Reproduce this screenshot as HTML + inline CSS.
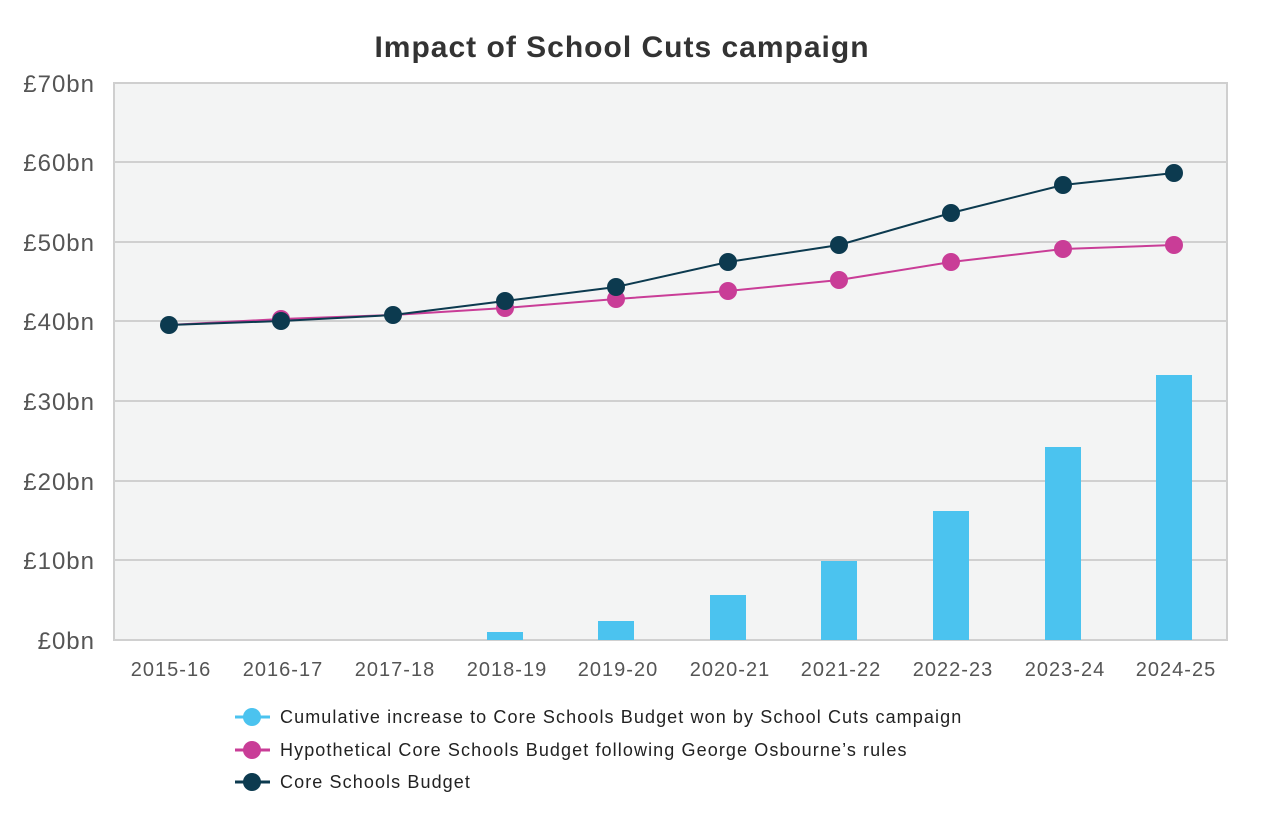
<!DOCTYPE html>
<html><head><meta charset="utf-8"><style>
body{margin:0;background:#fff;}
svg{display:block;font-family:"Liberation Sans",sans-serif;}
</style></head><body>
<svg width="1261" height="833" viewBox="0 0 1261 833">
<rect width="1261" height="833" fill="#fff"/>
<text x="622" y="57" text-anchor="middle" font-size="30" font-weight="bold" fill="#333" letter-spacing="1">Impact of School Cuts campaign</text>
<rect x="114" y="83" width="1113" height="557" fill="#f3f4f4" stroke="#cfcfcf" stroke-width="2"/>
<g stroke="#d0d0d0" stroke-width="2">
<line x1="114" y1="162" x2="1227" y2="162"/><line x1="114" y1="242" x2="1227" y2="242"/>
<line x1="114" y1="321" x2="1227" y2="321"/><line x1="114" y1="401" x2="1227" y2="401"/>
<line x1="114" y1="481" x2="1227" y2="481"/><line x1="114" y1="560" x2="1227" y2="560"/>
<line x1="114" y1="640" x2="1227" y2="640"/>
</g>
<g font-size="24" fill="#555" text-anchor="end" letter-spacing="1">
<text x="95" y="92">£70bn</text><text x="95" y="171">£60bn</text><text x="95" y="251">£50bn</text>
<text x="95" y="330">£40bn</text><text x="95" y="410">£30bn</text><text x="95" y="490">£20bn</text>
<text x="95" y="569">£10bn</text><text x="95" y="649">£0bn</text>
</g>
<g font-size="20" fill="#555" text-anchor="middle" letter-spacing="1">
<text x="171" y="676">2015-16</text><text x="283" y="676">2016-17</text><text x="395" y="676">2017-18</text>
<text x="507" y="676">2018-19</text><text x="618" y="676">2019-20</text><text x="730" y="676">2020-21</text>
<text x="841" y="676">2021-22</text><text x="953" y="676">2022-23</text><text x="1065" y="676">2023-24</text>
<text x="1176" y="676">2024-25</text>
</g>
<g fill="#4bc3ef">
<rect x="487" y="632" width="36" height="8"/><rect x="598" y="621" width="36" height="19"/>
<rect x="710" y="595" width="36" height="45"/><rect x="821" y="561" width="36" height="79"/>
<rect x="933" y="511" width="36" height="129"/><rect x="1045" y="447" width="36" height="193"/>
<rect x="1156" y="375" width="36" height="265"/>
</g>
<polyline fill="none" stroke="#c93d97" stroke-width="2" points="169,325 281,319 393,315 505,308 616,299 728,291 839,280 951,262 1063,249 1174,245"/>
<g fill="#c93d97">
<circle cx="281" cy="319" r="9"/><circle cx="505" cy="308" r="9"/><circle cx="616" cy="299" r="9"/><circle cx="728" cy="291" r="9"/><circle cx="839" cy="280" r="9"/><circle cx="951" cy="262" r="9"/><circle cx="1063" cy="249" r="9"/><circle cx="1174" cy="245" r="9"/>
</g>
<polyline fill="none" stroke="#0c3a4f" stroke-width="2" points="169,325 281,321 393,315 505,301 616,287 728,262 839,245 951,213 1063,185 1174,173"/>
<g fill="#0c3a4f">
<circle cx="169" cy="325" r="9"/><circle cx="281" cy="321" r="9"/><circle cx="393" cy="315" r="9"/><circle cx="505" cy="301" r="9"/><circle cx="616" cy="287" r="9"/><circle cx="728" cy="262" r="9"/><circle cx="839" cy="245" r="9"/><circle cx="951" cy="213" r="9"/><circle cx="1063" cy="185" r="9"/><circle cx="1174" cy="173" r="9"/>
</g>
<g font-size="18" fill="#222" letter-spacing="1.1">
<line x1="235" y1="717" x2="270" y2="717" stroke="#4bc3ef" stroke-width="3"/><circle cx="252" cy="717" r="9" fill="#4bc3ef"/>
<text x="280" y="723">Cumulative increase to Core Schools Budget won by School Cuts campaign</text>
<line x1="235" y1="750" x2="270" y2="750" stroke="#c93d97" stroke-width="3"/><circle cx="252" cy="750" r="9" fill="#c93d97"/>
<text x="280" y="756">Hypothetical Core Schools Budget following George Osbourne’s rules</text>
<line x1="235" y1="782" x2="270" y2="782" stroke="#0c3a4f" stroke-width="3"/><circle cx="252" cy="782" r="9" fill="#0c3a4f"/>
<text x="280" y="788">Core Schools Budget</text>
</g>
</svg>
</body></html>
